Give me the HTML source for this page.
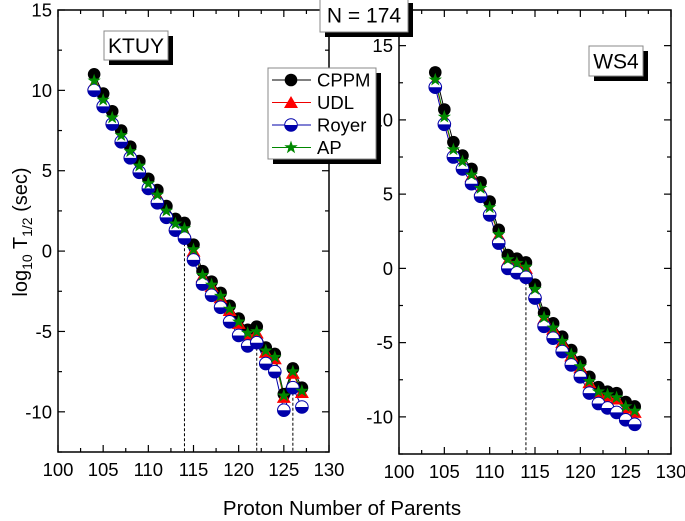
<!DOCTYPE html>
<html><head><meta charset="utf-8"><style>
html,body{margin:0;padding:0;background:#fff;}
svg{display:block;font-family:"Liberation Sans",Arial,sans-serif;}
</style></head><body>
<svg id="chart" width="685" height="521" viewBox="0 0 685 521"></svg>
<script>
const zLeft = [104,105,106,107,108,109,110,111,112,113,114,115,116,117,118,119,120,121,122,123,124,125,126,127];
const ktuyCPPM  = [11.0,9.8,8.7,7.5,6.5,5.6,4.5,3.8,2.8,2.0,1.75,0.4,-1.25,-1.9,-2.6,-3.4,-4.2,-4.9,-4.7,-6.0,-6.4,-8.9,-7.3,-8.5];
const ktuyUDL   = [10.4,9.3,8.2,7.0,6.1,5.2,4.1,3.4,2.4,1.6,1.2,0.0,-1.6,-2.2,-2.9,-3.7,-4.5,-5.2,-5.1,-6.3,-6.7,-9.1,-7.6,-8.8];
const ktuyRoyer = [10.0,9.0,7.9,6.8,5.8,4.9,3.9,3.0,2.1,1.3,0.8,-0.55,-2.05,-2.75,-3.5,-4.4,-5.25,-5.9,-5.7,-7.0,-7.5,-9.9,-8.5,-9.7];
const ktuyAP    = [10.6,9.4,8.3,7.2,6.2,5.3,4.2,3.5,2.5,1.7,1.4,0.1,-1.5,-2.1,-2.8,-3.6,-4.4,-5.1,-5.0,-6.2,-6.6,-9.0,-7.5,-8.7];
const zRight = [104,105,106,107,108,109,110,111,112,113,114,115,116,117,118,119,120,121,122,123,124,125,126];
const ws4CPPM  = [13.2,10.7,8.5,7.6,6.7,5.8,4.5,2.6,0.9,0.65,0.4,-1.1,-3.0,-3.7,-4.6,-5.5,-6.3,-7.3,-8.0,-8.3,-8.4,-9.0,-9.3];
const ws4UDL   = [12.6,10.1,7.9,7.1,6.2,5.3,4.0,2.2,0.5,0.3,0.0,-1.6,-3.4,-4.1,-5.0,-5.9,-6.7,-7.7,-8.4,-8.6,-8.8,-9.4,-9.7];
const ws4Royer = [12.2,9.7,7.5,6.7,5.7,4.85,3.6,1.7,0.0,-0.3,-0.6,-2.0,-3.9,-4.7,-5.6,-6.5,-7.3,-8.4,-9.1,-9.4,-9.7,-10.2,-10.5];
const ws4AP    = [12.7,10.2,8.0,7.2,6.3,5.4,4.1,2.3,0.6,0.35,0.1,-1.4,-3.3,-4.0,-4.9,-5.8,-6.6,-7.6,-8.3,-8.5,-8.7,-9.3,-9.6];
const xTicks = [100,105,110,115,120,125,130];
const leftYTicks = [15,10,5,0,-5,-10];
const rightYTicks = [15,10,5,0,-5,-10];
const leftDashes = [114,122,126];
const rightDashes = [114];

const NS="http://www.w3.org/2000/svg";
const svg=document.getElementById('chart');
function mk(tag,attrs,parent){const e=document.createElementNS(NS,tag);for(const k in attrs)e.setAttribute(k,attrs[k]);(parent||svg).appendChild(e);return e;}

function panel(cfg){
  const g=mk('g',{});
  
  
  const X=v=>cfg.x0+(v-100)/30*(cfg.x1-cfg.x0);
  const Y=v=>cfg.y0-(v-cfg.ymin)/(cfg.ymax-cfg.ymin)*(cfg.y0-cfg.y1);
  const fr=mk('rect',{x:cfg.x0,y:cfg.y1,width:cfg.x1-cfg.x0,height:cfg.y0-cfg.y1,fill:'none',stroke:'#000','stroke-width':1.5},g);
  
  
  for(let v=100;v<=130;v+=2.5){
    const L=(v%5===0)?7:4;
    mk('line',{x1:X(v),x2:X(v),y1:cfg.y0,y2:cfg.y0-L,stroke:'#000','stroke-width':1.2},g);
    mk('line',{x1:X(v),x2:X(v),y1:cfg.y1,y2:cfg.y1+L,stroke:'#000','stroke-width':1.2},g);
  }
  xTicks.forEach(v=>{
    const t=mk('text',{x:X(v),y:cfg.y0+24,'text-anchor':'middle','font-size':18.5},g);
    t.textContent=v;
    
    
  });
  for(let v=-12.5;v<=cfg.ymax;v+=2.5){
    if(Y(v)>cfg.y0+0.5||Y(v)<cfg.y1-0.5)continue;
    const L=(v%5===0)?7:4;
    mk('line',{x1:cfg.x0,x2:cfg.x0+L,y1:Y(v),y2:Y(v),stroke:'#000','stroke-width':1.2},g);
    mk('line',{x1:cfg.x1,x2:cfg.x1-L,y1:Y(v),y2:Y(v),stroke:'#000','stroke-width':1.2},g);
  }
  cfg.yTicks.forEach(v=>{
    const t=mk('text',{x:cfg.x0-6,y:Y(v)+6.5,'text-anchor':'end','font-size':18.5},g);
    t.textContent=v;
    
    
  });
  cfg.dashes.forEach(z=>{
    const i=cfg.z.indexOf(z);
    const top=Y(cfg.royer[i]);
    const d=mk('line',{x1:X(z),x2:X(z),y1:top,y2:cfg.y0,stroke:'#000','stroke-width':1,'stroke-dasharray':'3,2'},g);
    
    
  });
  const series=[
    {n:'cppm',d:cfg.cppm,c:'#000'},
    {n:'udl',d:cfg.udl,c:'#e00'},
    {n:'royer',d:cfg.royer,c:'#00a'},
    {n:'ap',d:cfg.ap,c:'#080'}];
  series.forEach(s=>{
    const pts=cfg.z.map((z,i)=>X(z).toFixed(1)+','+Y(s.d[i]).toFixed(1)).join(' ');
    const pl=mk('polyline',{points:pts,fill:'none',stroke:s.c,'stroke-width':1},g);
    
    
  });
  series.forEach(s=>{
    const sg=mk('g',{},g);
    
    
    cfg.z.forEach((z,i)=>drawMarker(s.n,X(z),Y(s.d[i]),sg));
  });
}
function drawMarker(n,x,y,p){
  if(n==='cppm'){mk('circle',{cx:x,cy:y,r:6.3,fill:'#000'},p);}
  else if(n==='udl'){mk('polygon',{points:`${x},${y-6.5} ${x+7},${y+5.5} ${x-7},${y+5.5}`,fill:'#f00'},p);}
  else if(n==='royer'){
    mk('circle',{cx:x,cy:y,r:6.3,fill:'#fff',stroke:'#00a','stroke-width':1},p);
    mk('path',{d:`M${x-6.3},${y} A6.3,6.3 0 0 0 ${x+6.3},${y} Z`,fill:'#00a'},p);
  } else {
    let pts=[];for(let k=0;k<10;k++){const r=k%2?2.8:7;const a=-Math.PI/2+k*Math.PI/5;pts.push((x+r*Math.cos(a)).toFixed(1)+','+(y+r*Math.sin(a)).toFixed(1));}
    mk('polygon',{points:pts.join(' '),fill:'#080'},p);
  }
}
panel({name:'ktuy-panel',x0:58,x1:329,y0:452,y1:10,ymin:-12.5,ymax:15,z:zLeft,cppm:ktuyCPPM,udl:ktuyUDL,royer:ktuyRoyer,ap:ktuyAP,yTicks:leftYTicks,dashes:leftDashes});
panel({name:'ws4-panel',x0:399,x1:671,y0:454,y1:10,ymin:-12.5,ymax:17.4,z:zRight,cppm:ws4CPPM,udl:ws4UDL,royer:ws4Royer,ap:ws4AP,yTicks:rightYTicks,dashes:rightDashes});

function box(x,y,w,h,txt,name,fs){
  const g=mk('g',{});
  
  
  mk('rect',{x:x+5,y:y+5,width:w,height:h,fill:'#000'},g);
  mk('rect',{x:x,y:y,width:w,height:h,fill:'#fff',stroke:'#888','stroke-width':1},g);
  if(txt){const t=mk('text',{x:x+w/2,y:y+h/2+fs*0.36,'text-anchor':'middle','font-size':fs},g);t.textContent=txt;}
  return g;
}
box(104,31,64,29,'KTUY','ktuy-label',21);
box(589,46,54,30,'WS4','ws4-label',21);
box(320,-2,88,34,'N = 174','n-count-label',21);
const lg=box(268,68,108,91,'','legend',16);
const names=['CPPM','UDL','Royer','AP'],cols=['#000','#e00','#00a','#080'],keys=['cppm','udl','royer','ap'];
names.forEach((nm,i)=>{
  const y=80+i*22.5;
  const e=mk('g',{},lg);
  
  
  mk('line',{x1:272,x2:311,y1:y,y2:y,stroke:cols[i],'stroke-width':1},e);
  drawMarker(keys[i],291,y,e);
  const t=mk('text',{x:317,y:y+6.5,'font-size':18.5},e);t.textContent=nm;
});
const yt=mk('text',{transform:'translate(27,232) rotate(-90)','text-anchor':'middle','font-size':20});


yt.innerHTML='log<tspan font-size="14" dy="5">10</tspan><tspan dy="-5"> T</tspan><tspan font-size="14" dy="5">1/2</tspan><tspan dy="-5"> (sec)</tspan>';
const xt=mk('text',{x:342,y:515,'text-anchor':'middle','font-size':20.5});


xt.textContent='Proton Number of Parents';
</script>
</body></html>
